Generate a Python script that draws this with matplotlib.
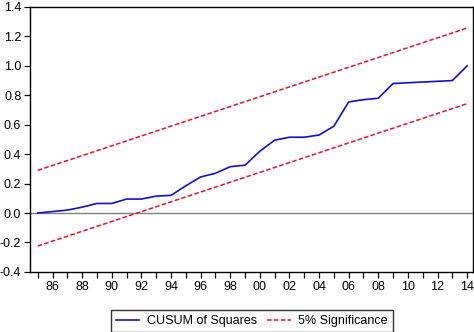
import matplotlib.pyplot as plt
import numpy as np

plt.rcParams['font.family'] = ['Liberation Sans', 'DejaVu Sans']

# recursive CUSUM of squares, 1985-2014
years = np.arange(1985, 2015)
cusum_sq = [0.0, 0.01, 0.02, 0.04, 0.065, 0.065, 0.095, 0.095, 0.115, 0.12,
            0.185, 0.245, 0.27, 0.315, 0.325, 0.42, 0.495, 0.515, 0.515, 0.53,
            0.59, 0.755, 0.77, 0.78, 0.88, 0.885, 0.89, 0.895, 0.9, 1.0]

# 5% significance bounds (straight lines between the end years)
bound_years = [1985, 2014]
upper = [0.29, 1.257]
lower = [-0.224, 0.743]

fig = plt.figure(figsize=(4.74, 3.32), dpi=100)
ax = fig.add_axes([0.064, 0.181, 0.934, 0.798])

ax.axhline(0, color='#808080', lw=1.0, zorder=1)
ax.plot(years, cusum_sq, color='#1010d0', lw=1.2, label='CUSUM of Squares', zorder=3)
ax.plot(bound_years, upper, color='#e8102a', lw=1.1, ls=(0, (3, 1.5)),
        label='5% Significance', zorder=2)
ax.plot(bound_years, lower, color='#e8102a', lw=1.1, ls=(0, (3, 1.5)), zorder=2)

ax.set_xlim(1984.5, 2014.4)
ax.set_ylim(-0.4, 1.4)

ax.set_yticks(np.arange(-0.4, 1.41, 0.2))
ax.set_yticklabels([f'{v:.1f}' for v in np.arange(-0.4, 1.41, 0.2)])
ax.set_xticks(np.arange(1986, 2015, 2))
ax.set_xticklabels([f'{y % 100:02d}' for y in range(1986, 2015, 2)])
ax.set_xticks(np.arange(1985, 2015, 2), minor=True)
ax.tick_params(which='both', direction='out', length=4, width=0.9, labelsize=9,
               colors='black', pad=2.5)

for s in ax.spines.values():
    s.set_linewidth(1.0)

leg = fig.legend(loc='upper center', bbox_to_anchor=(0.531, 0.066), ncol=2,
                 fontsize=9, frameon=True, fancybox=False, shadow=False,
                 handlelength=1.9, handletextpad=0.6, columnspacing=0.8,
                 borderpad=0.4, borderaxespad=0)
leg.get_frame().set_edgecolor('black')
leg.get_frame().set_linewidth(1.0)

fig.savefig('out.png', dpi=100)
